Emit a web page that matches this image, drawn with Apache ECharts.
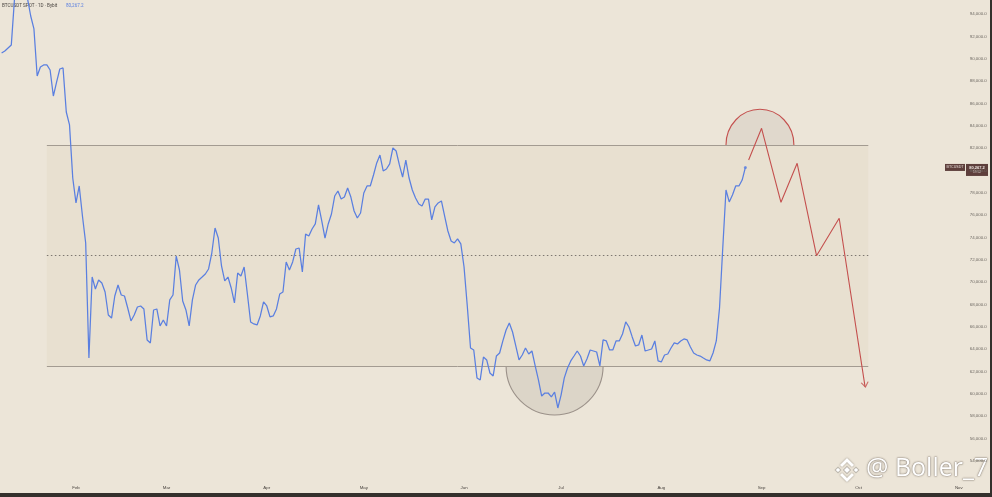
<!DOCTYPE html>
<html>
<head>
<meta charset="utf-8">
<script src="https://cdn.jsdelivr.net/npm/echarts@6/dist/echarts.min.js"></script>
<style>
html, body { margin: 0; padding: 0; background: #34302c; }
#main { width: 990px; height: 493px; background: #ece5d8; }
</style>
</head>
<body>
<div id="main"></div>
<script>
// daily closes BTCUSDT, first value = 9 Jan 2026
var startDay = [2026, 0, 9];
var dayCount = 299;
var monthNames = ['Jan', 'Feb', 'Mar', 'Apr', 'May', 'Jun', 'Jul', 'Aug', 'Sep', 'Oct', 'Nov', 'Dec'];

var closePrices = [
  90510, 90690, 90960, 91230, 95400, 96900, 96000, 95700, 95400, 93820,
  92660, 88450, 89260, 89440, 89440, 88990, 86660, 87910, 89080, 89170,
  85230, 84070, 79320, 77090, 78610, 75920, 73510, 63220, 70460, 69390,
  70200, 69930, 69120, 67060, 66790, 68760, 69750, 68850, 68760, 67690,
  66530, 67060, 67780, 67870, 67600, 64830, 64560, 67510, 67600, 66080,
  66620, 66080, 68410, 68850, 72340, 71090, 68320, 67510, 66080, 68410,
  69750, 70200, 70460, 70730, 71180, 72610, 74850, 73950, 71450, 70110,
  70460, 69480, 68140, 70820, 70550, 71360, 68940, 66440, 66260, 66170,
  66980, 68230, 67870, 66890, 66980, 67600, 68940, 69120, 71810, 71090,
  71810, 72970, 73060, 70910, 74310, 74130, 74760, 75210, 76910, 75480,
  73950, 75210, 76100, 77710, 78160, 77440, 77620, 78430, 77620, 76370,
  75740, 76190, 77980, 78610, 78610, 79590, 80670, 81380, 79950, 80130,
  80580, 82010, 81740, 80490, 79410, 80930, 79320, 78250, 77530, 77000,
  76820, 77440, 77440, 75570, 76730, 77090, 77270, 75920, 74580, 73690,
  73510, 73870, 73420, 71360, 67870, 64110, 63930, 61430, 61250, 63300,
  63040, 61870, 61610, 63390, 63660, 64740, 65720, 66350, 65540, 64290,
  63040, 63480, 64110, 63570, 63840, 62500, 61250, 59810, 60080, 60080,
  59730, 60170, 58740, 59900, 61430, 62320, 62950, 63390, 63840, 63390,
  62500, 63130, 63930, 63840, 63750, 62500, 64830, 64740, 63930, 63930,
  64740, 64740, 65360, 66440, 65990, 65100, 64290, 64380, 65270, 63840,
  63930, 64020, 64740, 62950, 62860, 63480, 63570, 64110, 64560, 64470,
  64740, 64920, 64830, 64200, 63660, 63480, 63390, 63210, 63040, 62950,
  63660, 64740, 67690, 73060, 78250, 77180, 77800, 78610, 78610, 79140,
  80267.2
];
var lastPrice = 80267.2;

// drawn projection (red zigzag), day index + price
var projDays = [231, 235, 241, 246, 252, 259, 267];
var projPrices = [80935, 83770, 77150, 80640, 72370, 75720, 60650];

// half ellipses: [start day, end day, base price, extreme price]
var topArc = [224, 245, 82280, 85470];
var bottomArc = [156, 186, 62500, 58115];

// range box
var rangeStart = 14, rangeEnd = 268;
var rangeTop = 82280, rangeMid = 72400, rangeBottom = 62500;

var yMin = 52000, yMax = 95253, yStep = 2000;

var days = [];
for (var i = 0; i < dayCount; i++) {
  var d = new Date(Date.UTC(startDay[0], startDay[1], startDay[2] + i));
  days.push(d.toISOString().slice(0, 10));
}

var blue = '#5a7fe0', red = '#c4504e';

function halfEllipse(params, api) {
  var p1 = api.coord([api.value(0), api.value(2)]);
  var p2 = api.coord([api.value(1), api.value(2)]);
  var pk = api.coord([api.value(0), api.value(3)]);
  var rx = (p2[0] - p1[0]) / 2;
  var ry = Math.abs(pk[1] - p1[1]);
  var sweep = pk[1] < p1[1] ? 1 : 0;
  var up = sweep === 1;
  return {
    type: 'path',
    shape: {
      pathData: 'M' + p1[0] + ' ' + p1[1] + ' A' + rx + ' ' + ry + ' 0 0 ' + sweep + ' ' + p2[0] + ' ' + p2[1]
    },
    style: {
      fill: up ? 'rgba(170,160,150,0.18)' : 'rgba(160,150,140,0.2)',
      stroke: up ? red : '#9b9189',
      lineWidth: 1.1
    }
  };
}

var chart = echarts.init(document.getElementById('main'));
var option = {
  animation: false,
  backgroundColor: '#ece5d8',
  grid: { left: 1.6, right: 24.7, top: 0, bottom: 9.7 },
  xAxis: {
    type: 'category',
    data: days,
    boundaryGap: false,
    axisLine: { show: false },
    axisTick: { show: false },
    splitLine: { show: false },
    axisLabel: {
      interval: function (idx, val) { return val.slice(8) === '01'; },
      formatter: function (val) { return monthNames[+val.slice(5, 7) - 1]; },
      fontSize: 4.4,
      color: '#4a4540',
      margin: 2.5,
      hideOverlap: false
    }
  },
  yAxis: {
    type: 'value',
    position: 'right',
    min: yMin,
    max: yMax,
    interval: yStep,
    axisLine: { show: false },
    axisTick: { show: false },
    splitLine: { show: false },
    axisLabel: {
      showMinLabel: false,
      showMaxLabel: false,
      align: 'right',
      margin: 21.5,
      fontSize: 4.4,
      color: '#6d6862',
      formatter: function (v) {
        return v.toLocaleString('en-US', { minimumFractionDigits: 1, maximumFractionDigits: 1 });
      }
    }
  },
  series: [
    {
      type: 'line',
      data: closePrices,
      symbol: 'none',
      lineStyle: { color: blue, width: 1.25 },
      z: 5,
      markArea: {
        silent: true,
        itemStyle: { color: 'rgba(205,188,160,0.12)' },
        data: [[{ coord: [rangeStart, rangeTop] }, { coord: [rangeEnd, rangeBottom] }]]
      },
      markLine: {
        silent: true,
        symbol: 'none',
        label: { show: false },
        lineStyle: { color: '#a39b91', width: 1, type: 'solid' },
        data: [
          [{ coord: [rangeStart, rangeTop] }, { coord: [rangeEnd, rangeTop] }],
          [{ coord: [rangeStart, rangeBottom] }, { coord: [rangeEnd, rangeBottom] }],
          [{ coord: [rangeStart, rangeMid], lineStyle: { type: [1.5, 2.5], color: '#7d7770' } },
           { coord: [rangeEnd, rangeMid] }]
        ]
      }
    },
    {
      type: 'custom',
      renderItem: halfEllipse,
      clip: false,
      encode: { x: [0, 1], y: [2, 3] },
      data: [bottomArc, topArc],
      z: 3
    },
    {
      type: 'line',
      data: projDays.map(function (x, k) { return [x, projPrices[k]]; }),
      symbol: 'none',
      lineStyle: { color: red, width: 1.1 },
      z: 6
    },
    {
      // arrow head at the end of the projection
      type: 'scatter',
      data: [[projDays[projDays.length - 1], projPrices[projPrices.length - 1]]],
      symbol: 'path://M0,0L5,6L10,0',
      symbolSize: [7, 5],
      symbolRotate: 9,
      symbolOffset: [0, -2],
      itemStyle: { color: 'transparent', borderColor: red, borderWidth: 1 },
      z: 6
    },
    {
      type: 'scatter',
      data: [[closePrices.length - 1, lastPrice]],
      symbol: 'circle',
      symbolSize: 3,
      itemStyle: { color: blue },
      z: 7
    }
  ]
};
chart.setOption(option);

// header text, price tag and watermark
var tagY = chart.convertToPixel({ gridIndex: 0 }, [closePrices.length - 1, lastPrice])[1];
var priceText = lastPrice.toLocaleString('en-US', { minimumFractionDigits: 1 });
chart.setOption({
  graphic: [
    { type: 'text', left: 2, top: 3, style: { text: 'BTCUSDT SPOT · 1D · Bybit', fontSize: 4.6, fill: '#4a4540', fontFamily: 'Roboto' } },
    { type: 'text', left: 66, top: 3, style: { text: priceText, fontSize: 4.6, fill: blue, fontFamily: 'Roboto' } },
    { type: 'rect', shape: { x: 945, y: tagY - 3.5, width: 20, height: 7 }, style: { fill: '#5e3f3c' } },
    { type: 'text', x: 955, y: tagY, style: { text: 'BTCUSDT', fontSize: 3.6, fill: '#e8ddd8', align: 'center', verticalAlign: 'middle' } },
    { type: 'rect', shape: { x: 966, y: tagY - 3.5, width: 22, height: 12 }, style: { fill: '#5e3f3c' } },
    { type: 'text', x: 977, y: tagY, style: { text: priceText, fontSize: 4, fontWeight: 'bold', fill: '#f2ebe6', align: 'center', verticalAlign: 'middle' } },
    { type: 'text', x: 977, y: tagY + 5, style: { text: '59:52', fontSize: 3.4, fill: '#d9cdc8', align: 'center', verticalAlign: 'middle' } },
    {
      type: 'group', x: 847, y: 470,
      children: [
        { type: 'rect', rotation: Math.PI / 4, shape: { x: -2.5, y: -2.5, width: 5, height: 5 }, style: { fill: '#fff', stroke: 'rgba(90,80,70,0.35)', lineWidth: 1 } },
        { type: 'rect', x: -9, rotation: Math.PI / 4, shape: { x: -2, y: -2, width: 4, height: 4 }, style: { fill: '#fff', stroke: 'rgba(90,80,70,0.35)', lineWidth: 1 } },
        { type: 'rect', x: 9, rotation: Math.PI / 4, shape: { x: -2, y: -2, width: 4, height: 4 }, style: { fill: '#fff', stroke: 'rgba(90,80,70,0.35)', lineWidth: 1 } },
        { type: 'polyline', shape: { points: [[-6, -4], [0, -10], [6, -4]] }, style: { stroke: '#fff', lineWidth: 3, fill: null, shadowColor: 'rgba(60,50,40,0.5)', shadowBlur: 2 } },
        { type: 'polyline', shape: { points: [[-6, 4], [0, 10], [6, 4]] }, style: { stroke: '#fff', lineWidth: 3, fill: null, shadowColor: 'rgba(60,50,40,0.5)', shadowBlur: 2 } }
      ]
    },
    {
      type: 'text', x: 866, y: 481,
      style: {
        text: '@ Boller_7', fontSize: 25, fontFamily: 'Open Sans', fill: '#ffffff',
        verticalAlign: 'bottom', textShadowColor: 'rgba(60,50,40,0.55)', textShadowBlur: 2,
        stroke: 'rgba(120,110,100,0.35)', lineWidth: 0.6
      }
    }
  ]
});
</script>
</body>
</html>
